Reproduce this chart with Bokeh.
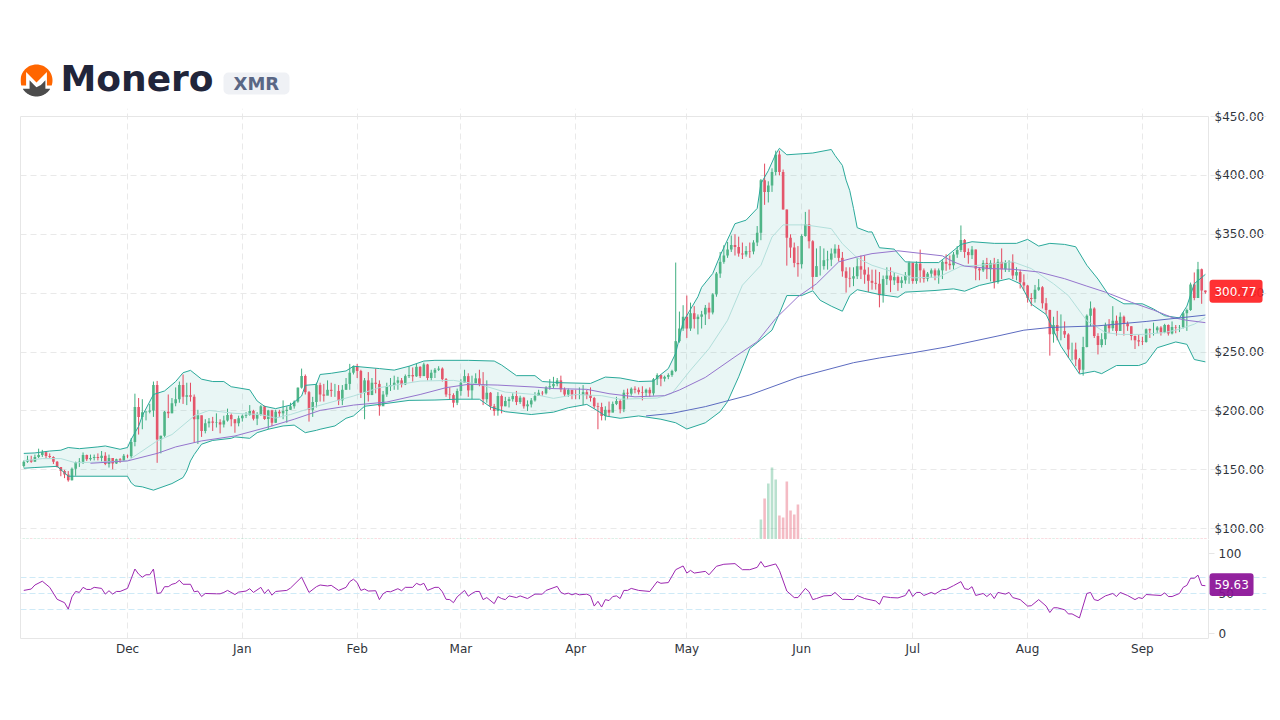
import numpy as np
from bokeh.core.properties import value
from bokeh.embed import file_html
from bokeh.layouts import column
from bokeh.models import (ColumnDataSource, FixedTicker, LinearAxis,
                          NumeralTickFormatter, Range1d)
from bokeh.plotting import figure
from bokeh.resources import INLINE

coin_name = "Monero"
coin_symbol = "XMR"
month_positions = [28, 59, 90, 118, 149, 179, 210, 240, 271, 302]
month_labels = ["Dec", "Jan", "Feb", "Mar", "Apr", "May", "Jun", "Jul", "Aug", "Sep"]
price_ticks = [100, 150, 200, 250, 300, 350, 400, 450]
rsi_ticks = [0, 50, 100]
rsi_levels = [30, 50, 70]

closes = [
    157,158.5,157,161,162.7,165,161.8,161,157,152.5,
    149,146,141.2,151,156.8,157,162.7,159,160,161,
    160,162,155,160,155.5,159,158,162,161.5,173.7,
    203.4,195,199,199.4,200.5,222,175.7,179,199.4,198,
    206.5,210,222,212,213.3,212,193,196.3,183,189.5,
    191,190,190.5,188.5,192,196.6,193,189.5,193.8,196,
    196.6,200,193.5,196.8,204,193.2,200.5,190,199.4,198,
    200,201,204,208,219.8,229.7,216,201,207.6,222,
    214,213,218,217,217,209,218,223,232.5,238,
    234,215.5,226,213.5,224,223,204,214,221,222,
    224,226,222.6,229.6,230.5,229.4,237.5,229.6,239.5,228,
    232.5,235,236,227,214,213.5,207,217,224,229.6,
    217.5,223.4,227.7,222.6,210,215.5,204,200,212.7,204,
    208.5,210,212.7,207.6,211.3,204,205.6,209,212.7,215.5,
    215,220,221,223,226,218.4,214,217.8,214,213.5,
    213.5,216,213.5,211,204,203.4,195.8,201,198.6,206,
    208.5,201.4,215.5,214.7,218.9,218,216,215.5,218,215,
    227,230.5,227.4,229,230.5,234,259.3,270,280,270,
    283,278,280,282,287.6,283.6,299,316.7,326.6,332,
    337,341,339.3,333.6,332.8,335.8,335.5,343,351.4,395.8,
    385.9,391.5,402.8,417.8,402.8,371,347,338.7,325.7,324.6,
    348.6,358.5,344,313.8,323,323,328,328.5,333.6,337.8,
    330,318.6,313,312.4,314.4,322.9,320,315.8,310.5,308.8,
    308,298.3,312,315,310.9,313.7,308.6,310.9,315.1,325.7,
    310.3,325.1,319.4,312.3,316.6,319.4,315.1,319.4,326.6,325,
    323.7,332.9,336.6,345.1,335,332.3,337,320.9,319.4,325.7,
    320.3,325.7,309.4,326.6,320.3,326,326.6,315,318,309.4,
    306.6,296,295,302.9,305.1,291.4,285.7,265.1,273.1,268,
    268,265,252.3,252.3,243.7,235.1,254.3,280.9,287.1,263.7,
    256,260.9,273.1,270.3,276.6,268,280,274.3,272,263.7,
    260,258.9,258.5,269.4,268.5,268.6,270.9,266.6,272.9,265.7,
    271.4,270.9,271,282.9,285.7,307.4,296,320.3,302.3,300.77,
]
highs = [
    158,162,162,163,168,167,166,164,161.5,157.5,
    152,150,149,152,157,160,164.8,163,163,163,
    164,166,165,163,160,159.5,160,163.5,163,177,
    214.7,211,210,200,206,225,225.5,179,200,214,
    211,220,225,231,224,224,214,201,196,193,
    194,195,198,193,196,202,198,193,196,197,
    199,205,201,199,205,204.5,201,201,201,201,
    209,204,207,209,220,236,231,217,212,224,
    224,223,226,224,223,222,222,228,240,238.5,
    240,235,228,233,228,236,226,217,224,228,
    230,229,228,231,238,237,240,238,241,240,
    235,236.5,238,237,228,220,215,219,227,235,
    232,230,232,235,233,226,216,206,216,214,
    212,212,215,217,213,212,209,211,216,218,
    217,221,227,229,228,230,220,219,218,218,
    220,222,218,220,212,207,207,204,208,208,
    212,210,218,219,220,221,220,221,219,220,
    228,232,231,230,232,235,326,284.4,289.8,298,
    292,289,282,285,290,292,300,318,335,340.7,
    343.5,349,350,348,343,340,343,345,357,397,
    410,395,406,421,421,405,371,350,343,340,
    350,369,371,345,338,340,338,336,338,341.5,
    341,335,322,322,322,330,332,332,322,320,
    320,318,315,322,322,318,315,314,318,327,
    326,327,337,321,318,321,321,321,328,333,
    332,335,340,357.5,346,338,340,337,322,328,
    330,328,330,329,338,328,328,333,322,320,
    316,307,300,307,312,306,296,286,280,285,
    282,276,266,258,258,245,263,282,293,288,
    266,266,275,278,289,281,283.7,281,276,272,
    264,265,263,270,270,275,272,272,274,273.5,
    276,273,273,284,287,309,317.6,326.6,320.9,302.3,
]
lows = [
    152,156,156,157,160,161,160,160,155,152,
    144.6,143,140,141,145,152.5,155,157.5,157.8,158,
    158,157,154,152,150.5,155,156,157.5,160,160,
    170,180,184.5,192,198,195,156,164,178,194,
    198,204,207,206,205,208,173,172,178,181,
    186,183,186,181,186,191,187,181.5,187,191,
    194,196,192,188,196,192.5,184.5,187,190,195,
    193,190,201,202,207,219,214,191,195,203,
    208,208,214,212,212,205,205,218,218,231,
    228,211,193,208,220,215,196,207,212,217,
    218,218,220,222,228,225,229,228,231,226,
    226,228,234,225,212,210,203,205,213,224,
    212,210,223,221,205,207,201,196,196,198,
    204,203,208,205,206,202,200,203,208,214,
    213,214,218,219,221,216,212,212,210,210,
    210,205,210,208,202,184.5,192,192,195,199,
    205,198,199,210,213,215,214,209,212,212,
    213,222,221,225,227,229,233,258,268,262,
    268,270,265,270,273,278,282,297,313,325,
    330,335,332,331,329,331,330,333,340,345,
    375,377,386,400,400,371,323.4,330,322,314,
    321,348,338,303,322,315,320,320,323,330,
    327,314,300.5,305,306,312,312,308,301,303,
    303,288,292,307,300.9,307,302,304.5,308,308,
    308,308,309,309,310,313,311,308,312,319,
    320,320,330,335,330,325,329,311,311,318,
    312,310,304,308,312,318,318,312,311,304,
    302,292,289,292,302,287,282,247,258,260,
    260,262,245,243,238,232,230,254,272,262,
    248,254,256,266,268,264,268,264,268,260,
    252.6,255,256,258,262,264,266,264,266,264,
    265,266,267,270,268,285,294,296,291,299.5,
]
first_open = 153.4
volume_small = 1
volume_peak = [20, 41, 56, 72, 60, 24, 22, 58, 29, 25, 35]
volume_peak_start = 199

upper_days = [0,3,7,10,12,15,20,22,26,28,29,31,32,35,38,41,43,45,48,51,54,56,61,63,65,68,72,75,76,79,
              80,83,87,89,96,100,104,108,111,120,127,129,133,138,140,145,153,157,161,166,170,172,
              174,176,178,182,183,186,188,192,195,198,199,201,203,204,206,213,218,219,221,222,223,224,225,228,229,
              231,235,238,243,247,249,253,256,262,268,271,274,277,281,284,287,290,293,297,302,305,308,312,314,316,319]
upper_vals = [164,164.4,166,166.7,169,168,169.5,170.3,167.5,169,176,187,196,214,217,225,232.5,234.5,227,225,225,220.6,218,208.5,204,202,205,212.7,221.8,222.6,
              231,232,234,238,236,234.7,238,242.4,243,243,242.4,239,230,230,225,224,223.4,228.8,228,225,225.4,231,
              236,249,275.7,297,305,316.7,332,359,362,372,393,404,418,423,417.5,419,422,417,408.5,396,387,372,355.6,352,352,
              338.6,337.4,326.6,326,326,331,341.4,343.7,342.3,342.3,345.7,340,342.3,341.4,339.4,323.7,312,298,291,291,286.6,280.9,279,289,308,316]
lower_days = [0,3,9,12,28,29,30,32,35,40,43,44,45,46,48,51,56,57,61,63,66,70,73,76,79,
              80,84,87,89,92,96,104,111,117,123,126,130,137,143,147,152,155,157,161,166,172,
              176,179,184,188,190,193,196,198,202,204,206,210,213,215,218,221,223,225,231,
              236,238,246,251,254,258,266,269,272,276,280,285,289,291,295,301,303,306,311,314,316,319]
lower_vals = [151.4,152,153,144.6,144.6,139,136.4,135.6,132.8,138.4,143.5,149,157.6,163,171.8,175,176.8,178,176.8,181.6,184.5,187.3,188,181.6,183.6,
              184.5,187.3,193.8,195.8,204,205.6,209,209.3,210,210,203.4,199.4,197,199,202.8,205.6,200,195.8,193.8,195.8,193,
              190,184.7,190,199.4,208,229,253,258,268.6,282.8,298,298,302,294,289,284.7,298,303,298.9,
              296.6,300.9,302.3,303.7,301.7,306.6,312.3,308,290.8,282,255,231.4,233.7,231.7,238.6,238.6,240.9,253.7,258.6,256.6,243.7,241.7]
sma20_days = [0,5,10,14,28,36,40,46,50,57,64,68,72,79,89,96,107,116,123,130,138,143,149,156,161,171,175,180,185,190,194,199,202,205,211,218,221,225,229,
              236,240,247,253,258,267,272,278,282,287,292,296,302,308,312,316,319]
sma20_vals = [157.6,159.6,159.6,156,157.6,174.6,180,195.8,200.5,198,197,194,197,204,212.7,219.8,225.4,226,222.6,216,214,210.7,214,213,210,211,215,234.7,253,277,306.8,323.7,347.7,358,358,354.8,342,330,323.7,
              316.7,313,313.7,322.9,323.7,326.6,320.9,308,298,276.6,266.6,265,265,266.6,269.4,273.7,279.4]
sma50_days = [18,28,36,41,48,57,66,73,80,89,98,107,114,120,128,138,143,152,158,165,173,177,184,192,198,203,209,214,220,225,229,236,
              248,251,254,261,267,274,281,287,292,299,305,310,314,319]
sma50_vals = [155.6,157.6,164,169.5,174.6,178.8,186.4,193,200.5,205,207.6,214,219.8,222.6,222,220.3,219,218.4,214.7,212,213,217.8,228.5,246,258.8,278.5,297,308,326.6,330.8,333.6,336,
              331.7,326.6,323,320.9,320.3,318,312.3,306,300.9,292.3,285.7,279.4,277,275]
sma200_days = [168,175,184,196,209,224,231,240,249,263,270,277,290,303,319]
sma200_vals = [195.8,198,203.7,213.6,228.5,241,245,249.4,254.3,263.7,268.6,270.9,272.3,276,281.4]

rsi_days = [0,2,3,5,6,7,9,11,12,13,14,15,16,17,18,19,21,22,23,24,25,26,28,30,31,32,33,34,35,36,37,38,39,40,41,42,43,45,46,47,48,49,
            52,53,54,55,57,58,60,61,62,64,65,66,67,68,71,72,75,77,79,80,82,83,85,87,88,89,90,91,92,93,95,96,97,98,99,101,102,103,105,106,107,108,109,
            111,112,113,114,115,116,117,119,120,121,122,123,124,125,127,128,129,130,131,133,134,136,138,140,141,144,145,146,147,148,149,150,152,153,154,155,156,157,158,159,160,161,162,163,164,166,
            169,171,172,174,176,178,179,180,181,184,185,187,189,192,194,196,198,199,200,203,204,206,208,209,211,212,213,214,216,218,219,221,224,225,227,230,231,232,234,236,238,239,240,241,242,243,245,246,248,249,251,253,254,255,256,257,259,260,261,262,263,265,266,267,269,271,272,274,276,277,278,279,281,282,283,285,287,288,289,290,292,294,295,296,298,300,301,302,303,307,308,309,310,312,313,314,315,316,317,318,319]
rsi_vals = [53.8,55.5,60.5,65.2,61.4,57.6,42.8,38.6,30.6,45.8,52.5,51.3,57.6,55,55,57.6,56.3,49.2,53.4,49.2,52.5,52.5,56.3,80.3,74,70.2,73.2,73.2,80.3,50,50.8,58.4,58.4,61.4,62.6,66.4,61.4,61.4,52.1,53,46.2,50,
            49.6,49.6,51.3,53.8,48.7,51.7,53,55.9,51.3,57.6,50,55,47.9,52.5,53.8,56.7,70.2,51.3,58.4,60.5,59.3,60.1,53.8,57.6,64.7,67.7,63.5,53.8,55.5,53,53.4,42.4,49.6,52.5,52.1,55.9,53.4,57.6,57.6,62.6,60.5,62.6,53.8,
            57.6,57.6,52.1,42.8,42.4,38.6,45.8,53.8,46.6,50,52.5,52.5,42.4,44.9,37.4,46.2,43.7,42.4,47,44.9,47,43.7,49.2,49.2,53.8,58.8,51.3,49.2,50.4,48.3,50,48.3,49.2,47,34.4,40.3,33.2,42.4,41.2,46.2,47,43.7,53.8,53.8,56.3,53.8,
            52.5,64.7,62.6,63.5,79.5,84.1,75.3,78.6,75.3,77.4,73.2,83.7,86.2,87,79.5,79.5,82.4,89.6,82.8,86.6,78.6,53,44.9,44.9,56.3,52.1,42.4,43.7,47,47.5,51.3,42.8,42.4,47.5,43.7,40.7,36.5,46.2,44.9,44.5,47.5,55,46.2,51.3,51.3,47.5,51.3,49.2,55,55,59.7,64.7,55.9,55,58.4,47.5,50,46.2,50,43.7,51.3,49.2,51.3,44.9,42.4,34.4,34.8,42.4,34.4,26.4,32.3,32.3,29.8,24.7,24.7,19.7,50,51.3,42.4,41.2,47,50,46.2,51.3,47.5,42.4,44.9,43.7,48.7,47.5,50.8,46.2,46.2,50,57.6,60.1,68.9,68.9,72.7,60.1,59.63]

GREEN, RED = "#4fb587", "#e4566b"
WICK_GREEN, WICK_RED = "#3fae80", "#e34a60"
GRID = "#e9e9e9"
BORDER = "#e6e6e6"
TEXT = "#2f343b"
TEAL = "#2aa99a"
FONT = "DejaVu Sans"

days = list(range(len(closes)))
opens = [first_open] + closes[:-1]
volumes = [volume_small] * len(closes)
volumes[volume_peak_start:volume_peak_start + len(volume_peak)] = volume_peak
up = [c >= o for c, o in zip(closes, opens)]
src = ColumnDataSource(dict(
    day=days, high=highs, low=lows,
    top=[max(o, c) for o, c in zip(opens, closes)],
    bottom=[min(o, c) for o, c in zip(opens, closes)],
    color=[GREEN if u else RED for u in up],
    wick=[WICK_GREEN if u else WICK_RED for u in up],
    volume=volumes,
))

# The frames run on to x=1266 so that the price tags can be glyphs; the chart proper ends at X_END.
X_START, X_END = -0.89, 319.85
x_range = Range1d(X_START, 335.5)
PRICE_LOW, PRICE_TOP, PRICE_HEAD = 90.9, 450, 456.8
TAG_LEFT, TAG_TEXT = 320.12, 321.45

# ---------- header ----------
head = figure(width=1272, height=108, x_range=Range1d(20, 1266), y_range=Range1d(108, 0),
              x_axis_location=None, y_axis_location=None, toolbar_location=None,
              output_backend="svg", min_border_left=20, min_border_right=6, min_border_top=0,
              min_border_bottom=0, outline_line_color=None)
head.xgrid.visible = False
head.ygrid.visible = False


def logo_xy(xs, ys):
    return [20 + v * 0.125 for v in xs], [64 + v * 0.125 for v in ys]


a = np.linspace(np.pi - np.arcsin(40.44 / 128), 2 * np.pi + np.arcsin(40.44 / 128), 60)
ox = list(128 + 128 * np.cos(a)) + [211.2, 211.2, 128, 44.8, 44.8]
oy = list(128 + 128 * np.sin(a)) + [168.44, 60.73, 143.93, 60.73, 168.44]
b = np.linspace(np.pi - np.arcsin(66.5 / 128), np.arcsin(66.5 / 128), 50)
gx = list(128 + 128 * np.cos(b)) + [199.1, 199.1, 162.78, 127.78, 108.87, 72.56, 72.56]
gy = list(128 + 128 * np.sin(b)) + [194.5, 126.75, 163.06, 181.98, 163.06, 126.75, 194.5]
lx, ly = logo_xy(ox, oy)
head.patch(lx, ly, fill_color="#ff6600", line_color=None)
lx, ly = logo_xy(gx, gy)
head.patch(lx, ly, fill_color="#4c4c4c", line_color=None)
head.text(x=[60], y=[78], text=[coin_name], text_font=value(FONT), text_font_style="bold",
          text_font_size="36px", text_color="#21253a", text_baseline="alphabetic")
head.quad(left=[223], right=[289], top=[72], bottom=[94], fill_color="#eff1f5", line_color=None,
          border_radius=5)
head.text(x=[233], y=[83], text=[coin_symbol], text_font=value(FONT), text_font_style="bold",
          text_font_size="18px", text_color="#5a6785", text_baseline="alphabetic")


def blank_axis():
    return LinearAxis(ticker=FixedTicker(ticks=[]), axis_line_color=BORDER,
                      major_label_text_font_size="0px", major_tick_line_color=None,
                      minor_tick_line_color=None)


def tag(fig, level, half_height, nudge, right, fill):
    fig.quad(left=[TAG_LEFT], right=[right], top=[level + nudge + half_height],
             bottom=[level + nudge - half_height], fill_color=fill, fill_alpha=0.92,
             line_color=None, border_radius=3)
    fig.text(x=[TAG_TEXT], y=[level + nudge], text=[f"{level:.2f}"], text_color="#ffffff",
             text_font=value(FONT), text_font_size="12px", text_baseline="middle")


# ---------- price pane ----------
p = figure(width=1272, height=431, x_range=x_range, y_range=Range1d(PRICE_LOW, PRICE_HEAD),
           x_axis_location=None, y_axis_location=None, toolbar_location=None,
           output_backend="svg", min_border_left=20, min_border_right=6,
           min_border_top=0, min_border_bottom=0, outline_line_color=None)
p.extra_y_ranges = {"vol": Range1d(0, 431)}
price_axis = LinearAxis(ticker=FixedTicker(ticks=price_ticks),
                        formatter=NumeralTickFormatter(format="$0,0.00"),
                        fixed_location=X_END, bounds=(PRICE_LOW, PRICE_TOP), axis_line_color=BORDER,
                        major_tick_line_color=None, major_tick_in=0, major_tick_out=0,
                        minor_tick_line_color=None, major_label_standoff=6,
                        major_label_text_font=FONT, major_label_text_font_size="12px",
                        major_label_text_color=TEXT, level="underlay")
p.add_layout(price_axis, "right")
p.ygrid.ticker = FixedTicker(ticks=price_ticks)
p.ygrid.grid_line_color = GRID
p.ygrid.grid_line_dash = [6, 4]
p.ygrid.bounds = (X_START, X_END)
p.xgrid.ticker = FixedTicker(ticks=month_positions)
p.xgrid.grid_line_color = GRID
p.xgrid.grid_line_dash = [6, 4]
p.xgrid.bounds = (PRICE_LOW, PRICE_TOP)
left_axis = blank_axis()
left_axis.bounds = (PRICE_LOW, PRICE_TOP)
p.add_layout(left_axis, "left")
p.line([X_START, X_END], [PRICE_TOP, PRICE_TOP], line_color=BORDER, line_width=1)

p.patch(upper_days + lower_days[::-1], upper_vals + lower_vals[::-1], fill_color="#26a69a",
        fill_alpha=0.1, line_color=None)
p.vbar(x="day", top="volume", bottom=0, width=0.7, fill_color="color", line_color=None,
       fill_alpha=0.4, source=src, y_range_name="vol")
p.segment(x0="day", y0="low", x1="day", y1="high", line_color="wick", line_width=1, source=src)
p.vbar(x="day", top="top", bottom="bottom", width=0.7, fill_color="color", line_color=None,
       source=src)
p.line(sma20_days, sma20_vals, line_color="#b2dfdb", line_width=1)
p.line(upper_days, upper_vals, line_color=TEAL, line_width=1)
p.line(lower_days, lower_vals, line_color=TEAL, line_width=1)
p.line(sma50_days, sma50_vals, line_color="#9575cd", line_width=1)
p.line(sma200_days, sma200_vals, line_color="#5c6bc0", line_width=1)
tag(p, closes[-1], 9.7, 0.9, 334.43, "#ff1f22")

# ---------- RSI pane ----------
q = figure(width=1272, height=129, x_range=x_range, y_range=Range1d(-5.8, 116.9),
           x_axis_location=None, y_axis_location=None, toolbar_location=None,
           output_backend="svg", min_border_left=20, min_border_right=6,
           min_border_top=0, min_border_bottom=30, outline_line_color=None)
month_axis = LinearAxis(ticker=FixedTicker(ticks=month_positions),
                        major_label_overrides=dict(zip(month_positions, month_labels)),
                        bounds=(X_START, X_END), axis_line_color=BORDER, major_tick_line_color=None,
                        major_tick_in=0, major_tick_out=0, minor_tick_line_color=None,
                        major_label_standoff=3, major_label_text_font=FONT,
                        major_label_text_font_size="12px", major_label_text_color=TEXT)
q.add_layout(month_axis, "below")
rsi_axis = LinearAxis(ticker=FixedTicker(ticks=rsi_ticks), fixed_location=X_END, axis_line_color=BORDER,
                      major_tick_line_color=BORDER, major_tick_in=0, major_tick_out=6,
                      minor_tick_line_color=None, major_label_standoff=4, major_label_text_font=FONT,
                      major_label_text_font_size="12px", major_label_text_color=TEXT, level="underlay")
q.add_layout(rsi_axis, "right")
q.ygrid.ticker = FixedTicker(ticks=rsi_levels)
q.ygrid.grid_line_color = "#cfeaf7"
q.ygrid.grid_line_dash = [6, 3]
q.ygrid.bounds = (X_START, X_END)
q.xgrid.ticker = FixedTicker(ticks=month_positions)
q.xgrid.grid_line_color = GRID
q.xgrid.grid_line_dash = [6, 4]
q.add_layout(blank_axis(), "left")
q.line(rsi_days, rsi_vals, line_color="#9c27b0", line_width=1)
tag(q, rsi_vals[-1], 14.0, 1.3, 332.0, "#8a0f96")

layout = column(head, p, q, spacing=0)
open("out.html", "w").write(file_html(layout, INLINE))
